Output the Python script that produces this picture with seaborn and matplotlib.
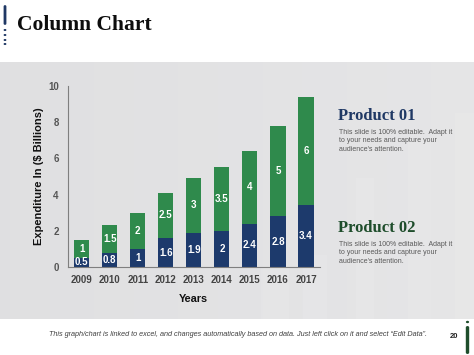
import numpy as np
import pandas as pd
import matplotlib
matplotlib.use("Agg")
import matplotlib.pyplot as plt
import seaborn as sns
from matplotlib.patches import Rectangle, FancyBboxPatch, Circle

years = ["2009", "2010", "2011", "2012", "2013", "2014", "2015", "2016", "2017"]
product_01 = [1, 1.5, 2, 2.5, 3, 3.5, 4, 5, 6]
product_02 = [0.5, 0.8, 1, 1.6, 1.9, 2, 2.4, 2.8, 3.4]
y_ticks = [0, 2, 4, 6, 8, 10]

sns.set_theme(style="white")
plt.rcParams['font.family'] = ['Liberation Sans', 'DejaVu Sans']

GREEN = "#2f8a4c"
NAVY = "#1d3a6c"
W, H = 474, 355

fig = plt.figure(figsize=(4.74, 3.55), dpi=100)
fig.patch.set_facecolor("white")

# background panel with subtle gradient
bg = fig.add_axes([0, (H - 319) / H, 1, (319 - 62) / H])
grad = np.linspace(0, 1, 256)[None, :, None]
img = (0.878 + 0.022 * grad) * np.ones((10, 256, 3))
img[..., 2] += 0.006
bg.imshow(np.clip(img, 0, 1), aspect="auto", extent=[0, 1, 0, 1])
for x0, w, top in [(0.55, 0.06, 0.2), (0.64, 0.05, 0.25),
                   (0.75, 0.04, 0.55), (0.86, 0.05, 0.7), (0.96, 0.04, 0.8)]:
    bg.add_patch(Rectangle((x0, 0), w, top, color="white", alpha=0.08, lw=0))
bg.set_xlim(0, 1)
bg.set_ylim(0, 1)
bg.axis("off")

df = pd.DataFrame({"Year": years, "P01": product_01, "P02": product_02})
df["Total"] = df["P01"] + df["P02"]

ax = fig.add_axes([67.7 / W, (H - 267) / H, (320 - 67.7) / W, (267 - 86) / H])
ax.set_facecolor("none")
sns.barplot(data=df, x="Year", y="Total", color=GREEN, width=0.54, saturation=1,
            linewidth=0, ax=ax)
sns.barplot(data=df, x="Year", y="P02", color=NAVY, width=0.54, saturation=1,
            linewidth=0, ax=ax)

for i, (a, b) in enumerate(zip(product_01, product_02)):
    ax.text(i, b + a / 2, f"{a:g}", color="white", ha="center", va="center",
            fontsize=7, fontweight="bold")
    ax.text(i, b / 2, f"{b:g}", color="white", ha="center", va="center",
            fontsize=7, fontweight="bold")

ax.set_xlim(-0.5, 8.5)
ax.set_ylim(0, 10)
ax.set_yticks(y_ticks)
ax.set_yticklabels([str(t) for t in y_ticks], fontsize=7, fontweight="bold", color="#555555")
ax.set_xticks(range(len(years)))
ax.set_xticklabels(years, fontsize=7, fontweight="bold", color="#444444")
ax.tick_params(axis="x", length=0, pad=6)
ax.tick_params(axis="y", length=0, pad=6.5)
ax.set_xlabel("Years", fontsize=7.8, fontweight="bold", color="#111111", labelpad=6)
ax.set_ylabel("Expenditure In ($ Billions)", fontsize=8, fontweight="bold",
              color="#111111", labelpad=3)
for s in ["top", "right"]:
    ax.spines[s].set_visible(False)
for s in ["left", "bottom"]:
    ax.spines[s].set_color("#7f7f7f")
    ax.spines[s].set_linewidth(0.8)

# title and decorations
fig.text(17 / W, (H - 25) / H, "Column Chart", fontsize=15.5, fontweight="bold",
         family=["Liberation Serif", "DejaVu Serif"], color="#0d0d0d", va="center")
fig.patches.append(FancyBboxPatch((3.6 / W, (H - 25) / H), 2.8 / W, 20 / H,
                                  boxstyle="round,pad=0,rounding_size=0.004",
                                  transform=fig.transFigure, color="#1f3864", lw=0))
for yy in [30, 35, 40, 44]:
    fig.patches.append(Circle((5 / W, (H - yy) / H), 1.4 / W, transform=fig.transFigure,
                              color="#1f3864", lw=0))

# right side text
desc = "This slide is 100% editable.  Adapt it\nto your needs and capture your\naudience's attention."
fig.text(338 / W, (H - 116) / H, "Product 01", fontsize=12, fontweight="bold",
         family=["Liberation Serif", "DejaVu Serif"], color="#1f3864", va="center")
fig.text(339 / W, (H - 129) / H, desc, fontsize=5.0, color="#595959", va="top",
         linespacing=1.3)
fig.text(338 / W, (H - 228) / H, "Product 02", fontsize=12, fontweight="bold",
         family=["Liberation Serif", "DejaVu Serif"], color="#1e4d2b", va="center")
fig.text(339 / W, (H - 241) / H, desc, fontsize=5.0, color="#595959", va="top",
         linespacing=1.3)

# footer
fig.text(238 / W, (H - 334) / H,
         "This graph/chart is linked to excel, and changes automatically based on data. "
         "Just left click on it and select \u201cEdit Data\u201d.",
         fontsize=5.2, style="italic", color="#404040", ha="center", va="center")
fig.text(454 / W, (H - 336) / H, "20", fontsize=5.5, fontweight="bold", color="#222222",
         ha="center", va="center")
fig.patches.append(Circle((467.5 / W, (H - 322) / H), 1.6 / W, transform=fig.transFigure,
                          color="#1e4d2b", lw=0))
fig.patches.append(FancyBboxPatch((465.8 / W, (H - 354) / H), 3.4 / W, 28 / H,
                                  boxstyle="round,pad=0,rounding_size=0.004",
                                  transform=fig.transFigure, color="#1e4d2b", lw=0))

fig.savefig("out.png", dpi=100)
